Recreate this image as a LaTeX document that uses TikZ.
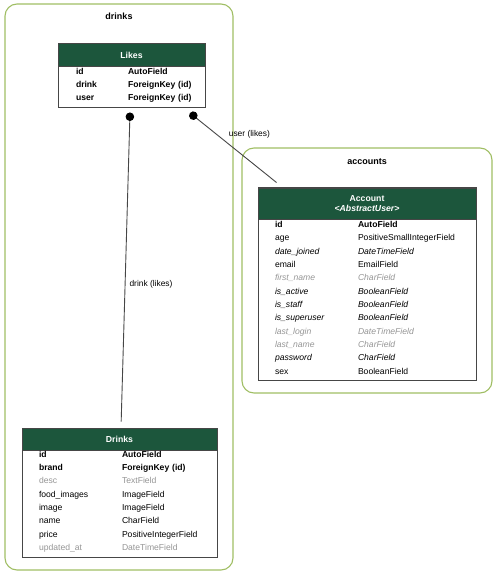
\documentclass[tikz,border=0pt]{standalone}
\usepackage{fontspec}
\setmainfont{Liberation Sans}
\usetikzlibrary{shapes,arrows.meta}
\definecolor{headgreen}{RGB}{28,86,60}
\definecolor{clustergreen}{RGB}{160,190,100}
\definecolor{tableframe}{RGB}{70,70,70}
\definecolor{fadegrey}{RGB}{150,150,150}
\tikzstyle{cluster} = [draw=clustergreen, line width=1.1pt, rounded corners=12pt, inner sep=0pt]
\tikzstyle{grouplabel} = [font=\fontsize{9}{10}\selectfont\bfseries]
\tikzstyle{tablebox} = [rectangle, draw=tableframe, line width=1pt, fill=white, inner sep=0pt]
\tikzstyle{header} = [rectangle, draw=tableframe, line width=1pt, fill=headgreen, text=white, inner sep=0pt, align=center, font=\fontsize{8.7}{10}\selectfont\bfseries]
\tikzstyle{field} = [text width=120pt, align=left, inner sep=0pt, text height=6pt, text depth=1.8pt, font=\fontsize{8.6}{9}\selectfont]
\tikzstyle{key} = [field, font=\fontsize{8.6}{9}\selectfont\bfseries]
\tikzstyle{inherited} = [field, font=\fontsize{8.6}{9}\selectfont\itshape]
\tikzstyle{faded} = [field, text=fadegrey]
\tikzstyle{fadedinh} = [inherited, text=fadegrey]
\tikzstyle{line} = [draw=tableframe, line width=0.9pt]
\tikzstyle{edgelabel} = [font=\fontsize{8.4}{9}\selectfont, inner sep=0pt, anchor=west]

\begin{document}
\begin{tikzpicture}[x=1pt, y=-1pt, node distance=13.34pt]
\useasboundingbox (0,0) rectangle (496,575);

% groups
\node[cluster, minimum width=228pt, minimum height=566pt](drinksgroup) at (119,287){};
\node[grouplabel](drinkstitle) at ([yshift=-13pt]drinksgroup.north){drinks};
\node[cluster, minimum width=250pt, minimum height=245pt](accountsgroup) at (367,270.5){};
\node[grouplabel](accountstitle) at ([yshift=-14pt]accountsgroup.north){accounts};

% Likes
\node[tablebox, minimum width=147pt, minimum height=64pt](likes) at (131.5,76){};
\node[header, minimum width=147pt, minimum height=23pt](likeshead) at (131.5,55.5){Likes};
\node[key](lid) at (136,72){id};
\node[key, right of=lid, node distance=52pt](lidt){AutoField};
\node[key, below of=lid](ldrink){drink};
\node[key, right of=ldrink, node distance=52pt](ldrinkt){ForeignKey (id)};
\node[key, below of=ldrink](luser){user};
\node[key, right of=luser, node distance=52pt](lusert){ForeignKey (id)};

% Account
\node[tablebox, minimum width=218pt, minimum height=192.7pt](account) at (367,284.3){};
\node[header, minimum width=218pt, minimum height=31pt](accounthead) at (367,203.5){Account\\\textit{<AbstractUser>}};
\node[key](aid) at (335,225.3){id};
\node[key, right of=aid, node distance=83pt](aidt){AutoField};
\node[field, below of=aid](aage){age};
\node[field, right of=aage, node distance=83pt](aaget){PositiveSmallIntegerField};
\node[inherited, below of=aage](adate){date\_joined};
\node[inherited, right of=adate, node distance=83pt](adatet){DateTimeField};
\node[field, below of=adate](aemail){email};
\node[field, right of=aemail, node distance=83pt](aemailt){EmailField};
\node[fadedinh, below of=aemail](afirst){first\_name};
\node[fadedinh, right of=afirst, node distance=83pt](afirstt){CharField};
\node[inherited, below of=afirst](aactive){is\_active};
\node[inherited, right of=aactive, node distance=83pt](aactivet){BooleanField};
\node[inherited, below of=aactive](astaff){is\_staff};
\node[inherited, right of=astaff, node distance=83pt](astafft){BooleanField};
\node[inherited, below of=astaff](asuper){is\_superuser};
\node[inherited, right of=asuper, node distance=83pt](asupert){BooleanField};
\node[fadedinh, below of=asuper](alogin){last\_login};
\node[fadedinh, right of=alogin, node distance=83pt](alogint){DateTimeField};
\node[fadedinh, below of=alogin](alast){last\_name};
\node[fadedinh, right of=alast, node distance=83pt](alastt){CharField};
\node[inherited, below of=alast](apass){password};
\node[inherited, right of=apass, node distance=83pt](apasst){CharField};
\node[field, below of=apass](asex){sex};
\node[field, right of=asex, node distance=83pt](asext){BooleanField};

% Drinks
\node[tablebox, minimum width=195pt, minimum height=129pt](drinks) at (119.5,492.5){};
\node[header, minimum width=195pt, minimum height=22pt](drinkshead) at (119.5,439){Drinks};
\node[key](did) at (99,455){id};
\node[key, right of=did, node distance=83pt](didt){AutoField};
\node[key, below of=did](dbrand){brand};
\node[key, right of=dbrand, node distance=83pt](dbrandt){ForeignKey (id)};
\node[faded, below of=dbrand](ddesc){desc};
\node[faded, right of=ddesc, node distance=83pt](ddesct){TextField};
\node[field, below of=ddesc](dfood){food\_images};
\node[field, right of=dfood, node distance=83pt](dfoodt){ImageField};
\node[field, below of=dfood](dimage){image};
\node[field, right of=dimage, node distance=83pt](dimaget){ImageField};
\node[field, below of=dimage](dname){name};
\node[field, right of=dname, node distance=83pt](dnamet){CharField};
\node[field, below of=dname](dprice){price};
\node[field, right of=dprice, node distance=83pt](dpricet){PositiveIntegerField};
\node[faded, below of=dprice](dupdated){updated\_at};
\node[faded, right of=dupdated, node distance=83pt](dupdatedt){DateTimeField};

% relations
\path[line, {Circle[length=8.5pt, color=black]}-, shorten >=6pt] ([xshift=-1.5pt, yshift=-4pt]likes.south) -- node[edgelabel, pos=0.544, xshift=4pt]{drink (likes)} ([xshift=1.5pt]drinkshead.north);
\path[line, {Circle[length=8.5pt, color=black]}-] ([xshift=58.5pt, yshift=-4.5pt]likes.south) -- node[edgelabel, pos=0.305, xshift=12pt]{user (likes)} ([xshift=-90.5pt, yshift=5pt]accounthead.north);

\end{tikzpicture}
\end{document}
